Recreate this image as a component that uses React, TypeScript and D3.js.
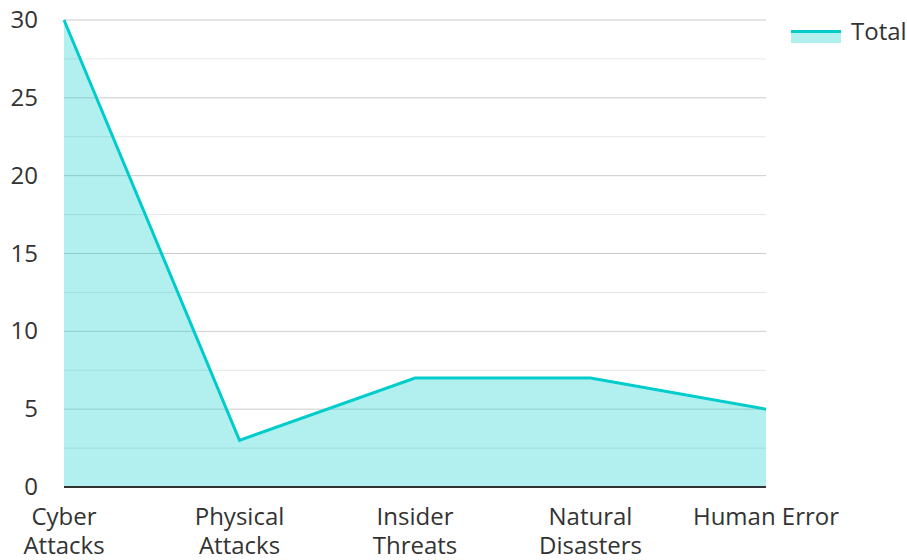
import React from "react";
import * as d3 from "d3";

const categories = ["Cyber Attacks", "Physical Attacks", "Insider Threats", "Natural Disasters", "Human Error"];
const categoryLines = [["Cyber", "Attacks"], ["Physical", "Attacks"], ["Insider", "Threats"], ["Natural", "Disasters"], ["Human Error"]];
const totals = [30, 3, 7, 7, 5];
const majorTicks = [0, 5, 10, 15, 20, 25, 30];
const minorTicks = [2.5, 7.5, 12.5, 17.5, 22.5, 27.5];
const seriesName = "Total";

const W = 907, H = 560;
const left = 64, right = 766, top = 20, bottom = 487;
const FONT = "'Open Sans', 'Noto Sans', sans-serif";
const FS = 24;

export default function App() {
  const x = d3.scalePoint<string>().domain(categories).range([left, right]).padding(0);
  const y = d3.scaleLinear().domain([0, 30]).range([bottom, top]);
  const data = categories.map((c, i) => ({ c, v: totals[i] }));
  const area = d3.area<{ c: string; v: number }>().x(d => x(d.c)!).y0(y(0)).y1(d => y(d.v));
  const line = d3.line<{ c: string; v: number }>().x(d => x(d.c)!).y(d => y(d.v));
  return (
    <svg width={W} height={H} style={{ position: "absolute", left: 0, top: 0 }} fontFamily={FONT}>
      <rect width={W} height={H} fill="#fff" />
      {minorTicks.map(t => (
        <line key={"m" + t} x1={left} x2={right} y1={y(t)} y2={y(t)} stroke="#e6e6e6" strokeWidth={1} />
      ))}
      {majorTicks.filter(t => t > 0).map(t => (
        <line key={"M" + t} x1={left} x2={right} y1={y(t)} y2={y(t)} stroke="#cccccc" strokeWidth={1} />
      ))}
      <path d={area(data)!} fill="#00cccc" fillOpacity={0.3} />
      <path d={line(data)!} fill="none" stroke="#00cccc" strokeWidth={3} strokeLinejoin="miter" />
      <line x1={left} x2={right} y1={bottom} y2={bottom} stroke="#333" strokeWidth={2} />
      {majorTicks.map(t => (
        <text key={"t" + t} x={38} y={y(t) + 8} textAnchor="end" fontSize={FS} fill="#333">{t}</text>
      ))}
      {categories.map((c, i) => (
        <text key={c} textAnchor="middle" fontSize={FS} fill="#333">
          {categoryLines[i].map((ln, j) => (
            <tspan key={j} x={x(c)} y={525 + j * 29}>{ln}</tspan>
          ))}
        </text>
      ))}
      <rect x={791} y={31} width={50} height={12} fill="#00cccc" fillOpacity={0.3} />
      <line x1={791} x2={841} y1={31.5} y2={31.5} stroke="#00cccc" strokeWidth={3} />
      <text x={851} y={40} fontSize={FS} fill="#333">{seriesName}</text>
    </svg>
  );
}
